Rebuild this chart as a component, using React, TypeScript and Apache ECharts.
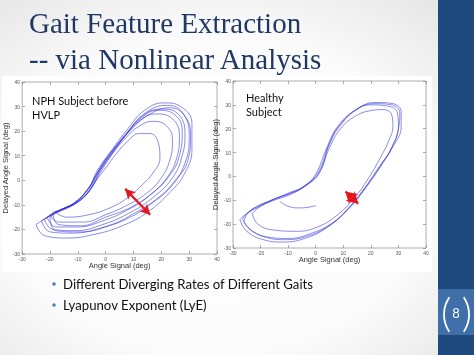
import React, { useEffect, useRef } from "react";
import * as echarts from "echarts";

type P = [number, number];

// ---- NPH subject (left plot) trajectory loops, [angle, delayed angle] in deg ----
const nphLoop1: P[] = [[-18,-13],[-14,-15],[-6,-14],[2,-11],[8,-7],[13,-2],[17,3],[19.5,9],[19,15],[16,19],[12,19],[8,16],[4,11],[0,5],[-4,-1],[-7,-6],[-12,-10],[-18,-13]];
const nphLoop2: P[] = [[-20,-14],[-17,-17],[-8,-17],[0,-14],[8,-10],[15,-5],[20,1],[23,8],[24,16],[22,22],[17,24],[12,22],[7,17],[2,10],[-2,3],[-5,-3],[-9,-8],[-15,-12],[-20,-14]];
const nphLoop3: P[] = [[-21,-15],[-18,-19],[-10,-19],[-1,-16.5],[8,-12],[16,-6],[22,1],[25.5,9],[26.5,18],[24,25],[18,27],[12,24],[6,17],[1,10],[-3,3],[-6,-3],[-11,-9],[-17,-12.5],[-21,-15]];
const nphLoop4: P[] = [[-22,-16],[-19,-20],[-11,-20.5],[-1,-18],[9,-13],[17,-7],[24,1],[27.5,10],[28.5,19],[26,27],[20,29],[13,26],[7,18],[1,10],[-3,3],[-6,-3],[-11,-9],[-17,-12.5],[-22,-16]];
const nphLoop5: P[] = [[-23,-16.5],[-20,-21],[-12,-21.5],[-2,-19.5],[8,-15.5],[17,-9],[24,-2],[28.5,7],[30,17],[28,27],[22,30.5],[15,28],[8,20],[2,11],[-3,3],[-6,-3],[-12,-10],[-18,-13],[-23,-16.5]];
const nphLoop6: P[] = [[-25,-18],[-22,-22.5],[-14,-23.5],[-4,-22],[6,-18.5],[15,-13],[23,-5],[28.5,3],[31,13],[31,23],[27,30],[21,31.5],[14,28.5],[8,21],[2,12],[-3,4],[-6,-3],[-11,-9],[-18,-13],[-25,-18]];
const nphLoop7: P[] = [[-19,-13],[-17,-18],[-9,-18.5],[0,-15],[9,-11],[17,-5],[23,2],[26.5,10],[27.5,20],[25,26.5],[19,28.5],[13,25.5],[7,18],[1,9],[-3,2],[-6,-4],[-10,-9],[-15,-11.5],[-19,-13]];
const nphLoop8: P[] = [[-20,-15],[-18,-20.5],[-9,-21],[1,-18.5],[11,-13],[19,-7],[25,0],[29.5,8],[30.5,18],[28.5,26],[23,29.5],[16,27],[9,20.5],[3,12],[-2,4],[-5,-3],[-10,-8.5],[-16,-12],[-20,-15]];
const nphArrow: P[] = [[7,-3.5],[16,-14]];

// ---- Healthy subject (right plot) trajectory loops ----
const healthyLoop1: P[] = [[-27.5,-18],[-25,-23],[-19,-26.5],[-12,-27.5],[-4,-26],[4,-21.5],[11,-14.5],[17,-6],[23,4],[28,12.5],[31,21],[31,27],[28,30.5],[22,31],[16,29],[9,22],[5,14],[1,2],[-4,-4],[-9,-7.5],[-15,-10],[-21,-13],[-25.5,-16],[-27.5,-18]];
const healthyLoop2: P[] = [[-26.5,-18],[-24,-22],[-18,-25.5],[-11,-26.5],[-3,-25],[5,-20.5],[12,-13.5],[18,-5],[23.5,4.5],[27.5,12],[30,20],[30.5,26.5],[27.5,30],[21.5,30.5],[15.5,28.5],[9,21.5],[5,13.5],[1.5,2],[-3,-3.5],[-9,-7],[-15,-9.5],[-21,-12.5],[-25,-15.5],[-26.5,-18]];
const healthyLoop3: P[] = [[-26,-19],[-23,-23],[-17,-25.5],[-10,-26],[-2,-24],[6,-19.5],[12.5,-12.5],[18.5,-4],[24,5],[28,13],[30,21],[29.5,27],[26,29.5],[20,30],[14,27.5],[8,21],[4,12],[0,1],[-4,-4],[-10,-7],[-16,-10],[-22,-13],[-25,-16],[-26,-19]];
const healthyLoop4: P[] = [[-23,-15.5],[-21,-20],[-15,-22.5],[-7,-23],[1,-21],[8,-16],[14,-9],[19,-1],[23.5,8],[26.5,15],[28,21],[27.5,26],[24.5,28],[19.5,27.5],[14,25],[9,20],[5,12],[1,1],[-4,-4],[-9,-7],[-15,-9.5],[-20,-12.5],[-23,-15.5]];
const healthyTail: P[] = [[-13,-10.5],[-10,-12.5],[-6,-13.2],[-2,-12.8],[0,-12.2]];
const healthyArrow: P[] = [[10.8,-6.3],[15.4,-11.4]];

const axisMin = -30;
const axisMax = 40;
const axisStep = 10;

const titleLines = ["Gait Feature Extraction", "-- via Nonlinear Analysis"];
const bullets = ["Different Diverging Rates of Different Gaits", "Lyapunov Exponent (LyE)"];
const pageNumber = "8";

const LINE_COLOR = "#2a2ad8";

function loopSeries(data: P[], grid: number) {
  return {
    type: "line",
    xAxisIndex: grid * 2,
    yAxisIndex: grid * 2,
    data,
    smooth: 0.45,
    symbol: "none",
    silent: true,
    z: 3,
    lineStyle: { width: 0.75, color: LINE_COLOR, opacity: 0.72 },
  };
}

function arrowSeries(a: P[], grid: number, size: number[]) {
  return {
    type: "line",
    xAxisIndex: grid * 2,
    yAxisIndex: grid * 2,
    data: [],
    silent: true,
    z: 5,
    markLine: {
      silent: true,
      symbol: ["arrow", "arrow"],
      symbolSize: size,
      label: { show: false },
      lineStyle: { color: "#e8141c", width: 2.2, type: "solid", opacity: 1 },
      data: [[{ coord: a[0] }, { coord: a[1] }]],
    },
  };
}

const tickStyle = { show: true, inside: true, length: 3, lineStyle: { color: "#777", width: 0.6 } };

function xAxes(grid: number, nameGap: number) {
  const base = {
    gridIndex: grid,
    type: "value",
    min: axisMin,
    max: axisMax,
    interval: axisStep,
    axisLine: { show: false, onZero: false },
    axisTick: tickStyle,
    splitLine: { show: false },
  };
  return [
    {
      ...base,
      position: "bottom",
      axisLabel: { fontSize: 5, color: "#555", margin: 2, fontFamily: "Liberation Sans" },
      name: "Angle Signal (deg)",
      nameLocation: "middle",
      nameGap,
      nameTextStyle: { fontSize: 7.5, color: "#333", fontFamily: "Liberation Sans" },
    },
    { ...base, position: "top", axisLabel: { show: false } },
  ];
}

function yAxes(grid: number, nameGap: number) {
  const base = {
    gridIndex: grid,
    type: "value",
    min: axisMin,
    max: axisMax,
    interval: axisStep,
    axisLine: { show: false, onZero: false },
    axisTick: tickStyle,
    splitLine: { show: false },
  };
  return [
    {
      ...base,
      position: "left",
      axisLabel: { fontSize: 5, color: "#555", margin: 2, fontFamily: "Liberation Sans" },
      name: "Delayed Angle Signal (deg)",
      nameLocation: "middle",
      nameGap,
      nameTextStyle: { fontSize: 7.5, color: "#333", fontFamily: "Liberation Sans" },
    },
    { ...base, position: "right", axisLabel: { show: false } },
  ];
}

export default function App() {
  const ref = useRef<HTMLDivElement>(null);
  useEffect(() => {
    if (!ref.current) return;
    const chart = echarts.init(ref.current, undefined, { renderer: "svg" });
    const sans = "Lato";
    const option = {
      animation: false,
      backgroundColor: new echarts.graphic.RadialGradient(0.45, 0.55, 0.75, [
        { offset: 0, color: "#ffffff" },
        { offset: 0.6, color: "#fbfbfb" },
        { offset: 1, color: "#e4e4e4" },
      ]),
      grid: [
        { left: 21, top: 82, width: 196, height: 172, show: true, borderColor: "#999", borderWidth: 0.8, backgroundColor: "#fff" },
        { left: 233, top: 81, width: 193, height: 167, show: true, borderColor: "#999", borderWidth: 0.8, backgroundColor: "#fff" },
      ],
      xAxis: [...xAxes(0, 7), ...xAxes(1, 7)],
      yAxis: [...yAxes(0, 6), ...yAxes(1, 4)],
      graphic: [
        { type: "rect", z: -10, shape: { x: 2, y: 76, width: 430, height: 196 }, style: { fill: "#ffffff" }, silent: true },
        { type: "rect", z: 10, shape: { x: 438, y: 0, width: 36, height: 355 }, style: { fill: "#1f497d" }, silent: true },
        { type: "rect", z: 11, shape: { x: 438, y: 289, width: 36, height: 46 }, style: { fill: "#3f6fa8" }, silent: true },
        { type: "text", z: 12, x: 441, y: 312, style: { text: "(", fill: "#ffffff", font: "300 40px Lato", textAlign: "left", textVerticalAlign: "middle", align: "left", verticalAlign: "middle" } },
        { type: "text", z: 12, x: 472, y: 312, style: { text: ")", fill: "#ffffff", font: "300 40px Lato", textAlign: "right", textVerticalAlign: "middle", align: "right", verticalAlign: "middle" } },
        { type: "text", z: 12, x: 456, y: 313, style: { text: pageNumber, fill: "#ffffff", font: "13px Lato", textAlign: "center", textVerticalAlign: "middle", align: "center", verticalAlign: "middle" } },
        ...titleLines.map((t, i) => ({
          type: "text", z: 12, x: 29, y: 37 + i * 36,
          style: { text: t, fill: "#1f3864", font: "29px 'Liberation Serif'", textAlign: "left", textVerticalAlign: "bottom", align: "left", verticalAlign: "bottom" },
        })),
        ...bullets.map((t, i) => ({
          type: "group", z: 12,
          children: [
            { type: "circle", shape: { cx: 54, cy: 284 + i * 21, r: 1.8 }, style: { fill: "#4f81bd" } },
            { type: "text", x: 63, y: 284 + i * 21, style: { text: t, fill: "#111", font: `13.2px ${sans}`, textAlign: "left", textVerticalAlign: "middle", align: "left", verticalAlign: "middle" } },
          ],
        })),
        { type: "text", z: 12, x: 32, y: 100, style: { text: "NPH Subject before", fill: "#111", font: `11px ${sans}`, textAlign: "left", textVerticalAlign: "middle", align: "left", verticalAlign: "middle" } },
        { type: "text", z: 12, x: 32, y: 114, style: { text: "HVLP", fill: "#111", font: `11px ${sans}`, textAlign: "left", textVerticalAlign: "middle", align: "left", verticalAlign: "middle" } },
        { type: "text", z: 12, x: 246, y: 97, style: { text: "Healthy", fill: "#111", font: `11px ${sans}`, textAlign: "left", textVerticalAlign: "middle", align: "left", verticalAlign: "middle" } },
        { type: "text", z: 12, x: 246, y: 111, style: { text: "Subject", fill: "#111", font: `11px ${sans}`, textAlign: "left", textVerticalAlign: "middle", align: "left", verticalAlign: "middle" } },
      ],
      series: [
        ...[nphLoop1, nphLoop2, nphLoop3, nphLoop4, nphLoop5, nphLoop6, nphLoop7, nphLoop8].map((d) => loopSeries(d, 0)),
        ...[healthyLoop1, healthyLoop2, healthyLoop3, healthyLoop4, healthyTail].map((d) => loopSeries(d, 1)),
        arrowSeries(nphArrow, 0, [8, 10]),
        arrowSeries(healthyArrow, 1, [10, 11]),
      ],
    };
    chart.setOption(option as any);
    return () => chart.dispose();
  }, []);
  return <div ref={ref} style={{ position: "fixed", left: 0, top: 0, width: 474, height: 355 }} />;
}
